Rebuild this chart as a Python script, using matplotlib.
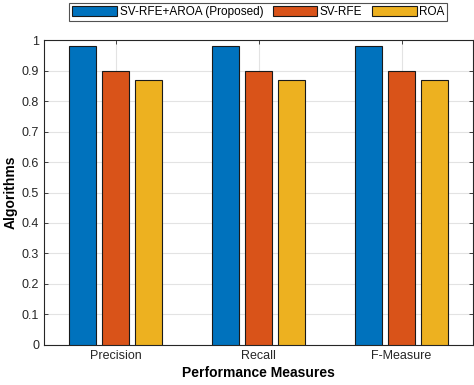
import numpy as np
import matplotlib
matplotlib.use("Agg")
import matplotlib.pyplot as plt

plt.rcParams["font.family"] = ["Liberation Sans", "DejaVu Sans"]

measures = ["Precision", "Recall", "F-Measure"]
algorithms = ["SV-RFE+AROA (Proposed)", "SV-RFE", "ROA"]
proposed = [0.98, 0.98, 0.98]
sv_rfe = [0.90, 0.90, 0.90]
roa = [0.87, 0.87, 0.87]
colors = ["#0072BD", "#D95319", "#EDB120"]

fig = plt.figure(figsize=(4.74, 3.85), dpi=100)
ax = fig.add_axes([0.093, 0.104, 0.905, 0.792])

x = np.arange(1, len(measures) + 1)
width = 0.19
offsets = [-0.23, 0.0, 0.23]
for series, off, col, name in zip([proposed, sv_rfe, roa], offsets, colors, algorithms):
    ax.bar(x + off, series, width, color=col, edgecolor="#1a1a1a", linewidth=0.8,
           label=name, zorder=3)

ax.set_xlim(0.5, 3.5)
ax.set_ylim(0, 1)
ax.set_yticks(np.arange(0, 1.01, 0.1))
ax.set_yticklabels(["0", "0.1", "0.2", "0.3", "0.4", "0.5", "0.6", "0.7", "0.8", "0.9", "1"])
ax.set_xticks(x)
ax.set_xticklabels(measures)
ax.grid(True, color="#e3e3e3", linewidth=0.8, zorder=0)
ax.tick_params(direction="in", top=True, right=True, labelsize=9, colors="#262626",
               length=3, width=0.6)
for s in ax.spines.values():
    s.set_color("#262626")
    s.set_linewidth(0.8)

ax.set_xlabel("Performance Measures", fontsize=10, fontweight="bold", labelpad=3)
ax.set_ylabel("Algorithms", fontsize=10, fontweight="bold", labelpad=3)

leg = fig.legend(loc="upper center", bbox_to_anchor=(0.545, 1.0), ncol=3, fontsize=8.5,
                 frameon=True, fancybox=False, edgecolor="#262626",
                 handlelength=3.8, handleheight=0.9, handletextpad=0.2,
                 columnspacing=0.8, borderpad=0.25, borderaxespad=0.25)
leg.get_frame().set_linewidth(0.8)

fig.savefig("out.png", dpi=100)
